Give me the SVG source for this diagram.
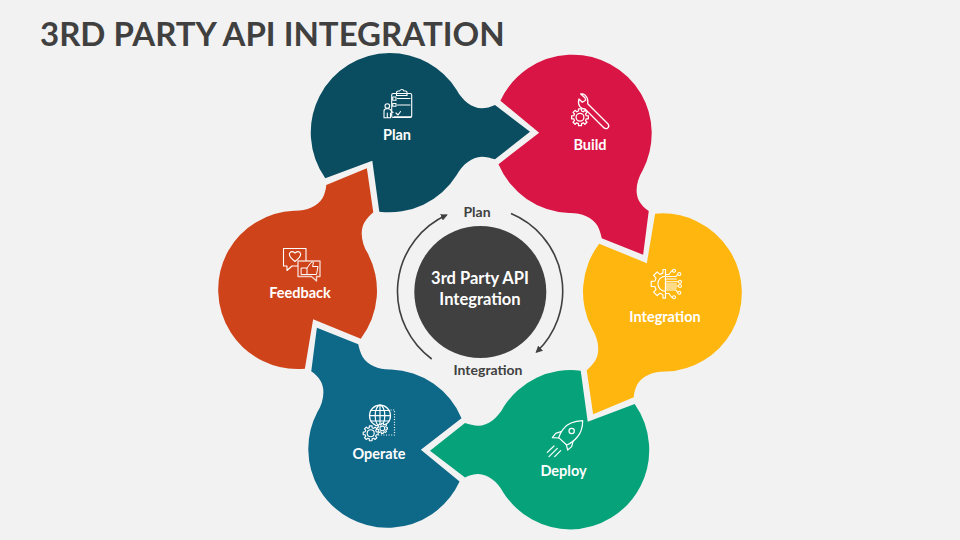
<svg xmlns="http://www.w3.org/2000/svg" xmlns:xlink="http://www.w3.org/1999/xlink" width="960" height="540" viewBox="0 0 960 540">
<style>
text{font-family:"Lato","Liberation Sans",sans-serif;font-weight:700;text-anchor:middle}
.title{font-size:33px;fill:#404040;text-anchor:start}
.lbl{font-size:14.5px;fill:#fff}
.dark{font-size:14px;fill:#404040}
.mid{font-size:16.5px;fill:#fff}
.ic{fill:none;stroke:#fff;stroke-linejoin:round;stroke-linecap:round}
.arc{fill:none;stroke:#404040;stroke-width:1.6}
</style>
<defs>
<path id="petal" d="M372.3 160.7L325.3 178.3A79.5 79.5 0 0 1 389.5 53A79.5 79.5 0 0 1 456.7 90C462 100 472 108.3 481.7 108.3C486 108.3 491 107 495 105L530 131.7L495 159.3C491 158 486 156.7 481.7 156.7C472 156.7 462 165 456.7 175A79.5 79.5 0 0 1 379.3 211.7Z"/>
<path id="gear" d="M7.37 -1.84L9.85 -1.74L9.85 1.74L7.37 1.84L6.51 3.91L8.19 5.74L5.74 8.19L3.91 6.51L1.84 7.37L1.74 9.85L-1.74 9.85L-1.84 7.37L-3.91 6.51L-5.74 8.19L-8.19 5.74L-6.51 3.91L-7.37 1.84L-9.85 1.74L-9.85 -1.74L-7.37 -1.84L-6.51 -3.91L-8.19 -5.74L-5.74 -8.19L-3.91 -6.51L-1.84 -7.37L-1.74 -9.85L1.74 -9.85L1.84 -7.37L3.91 -6.51L5.74 -8.19L8.19 -5.74L6.51 -3.91ZM4.6 0A4.6 4.6 0 1 0 -4.6 0A4.6 4.6 0 1 0 4.6 0Z"/>
<marker id="ah" viewBox="0 0 10 10" refX="8" refY="5" markerWidth="7" markerHeight="7" markerUnits="userSpaceOnUse" orient="auto"><path d="M0 0L10 5L0 10Z" fill="#404040"/></marker>
</defs>
<rect width="960" height="540" fill="#f2f2f2"/>
<text class="title" x="40" y="46">3RD PARTY API INTEGRATION</text>

<g id="connectors">
<path class="arc" marker-end="url(#ah)" d="M431.7 359A84 84 0 0 1 446.5 215"/>
<path class="arc" marker-end="url(#ah)" d="M511 213.5A84 84 0 0 1 536.5 352"/>
</g>

<g id="node-plan">
<use href="#petal" xlink:href="#petal" fill="#0a4d60"/>
<g class="ic" stroke-width="1.1">
<rect x="391.7" y="93.5" width="20" height="24" rx="1.5"/>
<path d="M396.5 95.5V92.5Q396.5 91 398.5 91H399.5Q400.5 89.5 402 89.5Q403.5 89.5 404 91H405.500Q407 91 407 92.500V95.500Z"/>
<rect x="392.700" y="97" width="3.300" height="3.300"/>
<rect x="392.700" y="103.500" width="3.300" height="2.800"/>
<path d="M397.500 98.500H410M397.500 105H410M394 116.800H411M396 113L398 115L400.500 111.500"/>
<circle cx="387.300" cy="106" r="2.300"/>
<path d="M384 117.800V111Q384 108.800 386.500 108.800H388.500Q390.500 108.800 391.500 111.500L393 112.500M390.500 113V117.800H384M387.300 113V117.800"/>
</g>
<text class="lbl" x="397" y="140">Plan</text>
</g>

<g id="node-build">
<use href="#petal" xlink:href="#petal" transform="rotate(60 480 291.200)" fill="#d81544"/>
<g class="ic" stroke-width="1.300">
<path d="M580.700 94Q585 93.300 587.300 98.300Q588.300 101.700 587.700 103.700L608.300 124.300Q609.700 126.700 607.300 128.300Q605.300 129.300 603.300 127.300L585 109Q581.700 109 579.700 106.300Q577.700 103.300 579 99L582.300 102.300L585.700 100.300L585 97.700Z"/>
<use href="#gear" xlink:href="#gear" transform="translate(580 117.300) scale(.85)" stroke-width="1.500"/>
</g>
<text class="lbl" x="590" y="150">Build</text>
</g>

<g id="node-integration">
<use href="#petal" xlink:href="#petal" transform="rotate(120 480 291.200)" fill="#ffb60f"/>
<g class="ic" stroke-width="1.100">
<path transform="translate(665.500 283.800) scale(1.450)" stroke-width=".8" d="M0 -9.850L-1.740 -9.850L-1.840 -7.370L-3.910 -6.510L-5.740 -8.190L-8.190 -5.740L-6.510 -3.910L-7.370 -1.840L-9.850 -1.740L-9.850 1.740L-7.370 1.840L-6.510 3.910L-8.190 5.740L-5.740 8.190L-3.910 6.510L-1.840 7.370L-1.740 9.850L0 9.850Z"/>
<path d="M665.500 276.200A7.600 7.600 0 0 0 665.500 291.400"/>
<path d="M665.500 274.500H669L671.500 271H672.500M665.500 276.500H676L677.500 274.500M665.500 281.700H678M665.500 286H678M665.500 290H676L677.500 292.500M665.500 293.500H669L671.500 297.300H672.500"/>
<path stroke-opacity=".5" stroke-width="2" d="M665.500 279H676M665.500 284H676M665.500 288H676"/>
<circle cx="674" cy="270.700" r="1.500"/><circle cx="679.300" cy="274" r="1.500"/><circle cx="680" cy="281.700" r="1.500"/><circle cx="680" cy="286" r="1.500"/><circle cx="679.300" cy="292.700" r="1.500"/><circle cx="674" cy="297.300" r="1.500"/>
</g>
<text class="lbl" x="665" y="322">Integration</text>
</g>

<g id="node-deploy">
<use href="#petal" xlink:href="#petal" transform="rotate(180 480 291.200)" fill="#06a27a"/>
<g class="ic" stroke-width="1.200" transform="translate(540 415) scale(.3333)">
<g stroke-width="3.600">
<path d="M128 17C100 18 80 28 70 42C62 52 58 62 56 68L80 90C90 86 102 78 112 66C124 52 128 35 128 17Z"/>
<path d="M63 50L47 55L37 68L56 69M99 79L95 95L83 105L79 89"/>
<circle cx="95" cy="48" r="8"/>
<path d="M42 93L22 112M52 100L27 125M62 107L44 125"/>
</g>
</g>
<text class="lbl" x="563.500" y="476">Deploy</text>
</g>

<g id="node-operate">
<use href="#petal" xlink:href="#petal" transform="rotate(240 480 291.200)" fill="#0e6888"/>
<g class="ic" stroke-width="1.200">
<path stroke-dasharray="1 1.600" stroke-linecap="butt" d="M388 410H394.500V435H377"/>
<circle cx="380" cy="415.700" r="10.500"/>
<ellipse cx="380" cy="415.700" rx="4.800" ry="10.500"/>
<path d="M380 405.200V426.200M369.500 415.700H390.500M371 410.500H389M371 421H389"/>
<use href="#gear" xlink:href="#gear" transform="translate(370.700 433.300) scale(.76)" stroke-width="1.500" fill="#0e6888"/>
<use href="#gear" xlink:href="#gear" transform="translate(382.300 428.300) scale(.52)" stroke-width="2" fill="#0e6888"/>
</g>
<text class="lbl" x="379" y="459">Operate</text>
</g>

<g id="node-feedback">
<use href="#petal" xlink:href="#petal" transform="rotate(300 480 291.200)" fill="#cf431a"/>
<g class="ic" stroke-width="1.100">
<path d="M283.500 248.500H306V266H292L287 270.500V266H283.500Z"/>
<path d="M295 253Q299 250 300.500 253.500Q301.500 256.500 295 261.500Q288.500 256.500 289.500 253.500Q291 250 295 253Z"/>
<path fill="#cf431a" stroke-opacity=".75" stroke-width="1.400" d="M298 261H320V276.500H316.500V281L311.500 276.500H298Z"/>
<path stroke-width="1" d="M301.500 268H307V274.500H301.500ZM307 268L311 262.500Q312.500 261.500 313.500 262.500L312.500 266.500H318L316.500 274.500H307"/>
</g>
<text class="lbl" x="300" y="298">Feedback</text>
</g>

<g id="node-center">
<circle cx="480.300" cy="292" r="66" fill="#404040"/>
<text class="mid" x="480" y="283.500">3rd Party API</text>
<text class="mid" x="480" y="304.500">Integration</text>
</g>
<text class="dark" x="477" y="216.500">Plan</text>
<text class="dark" x="488" y="375">Integration</text>
</svg>
